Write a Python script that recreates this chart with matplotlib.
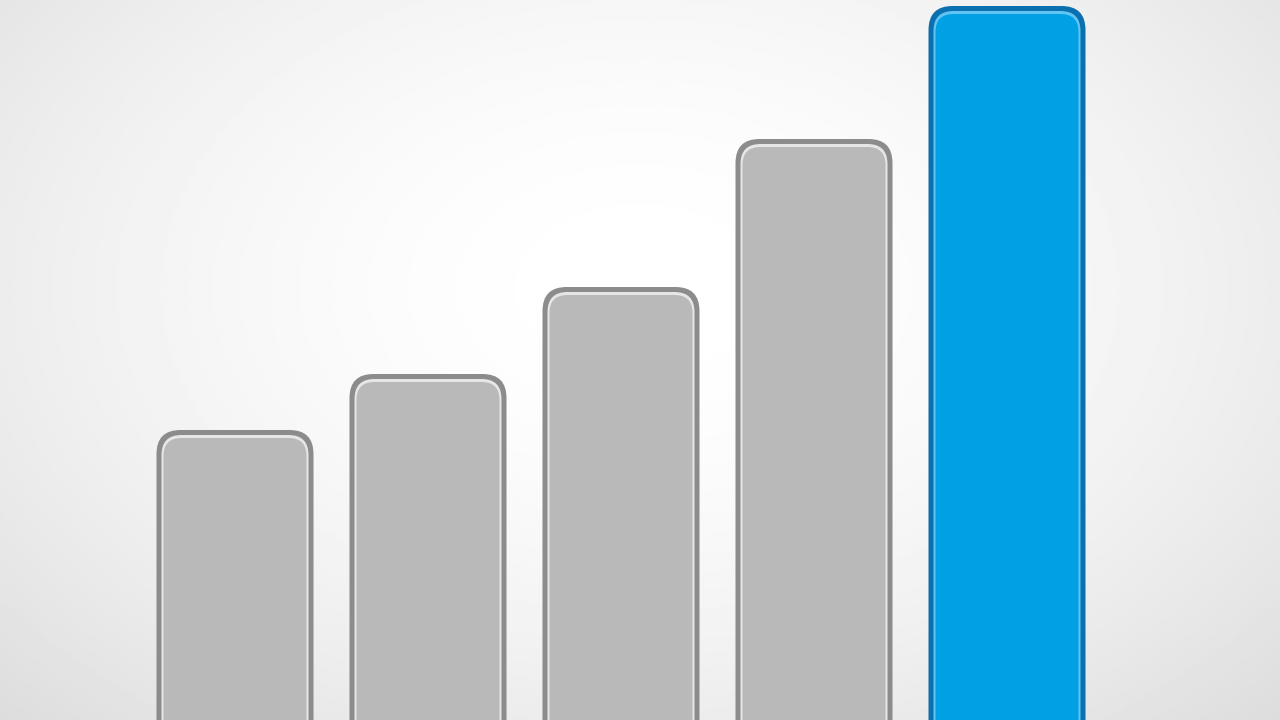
import numpy as np
import matplotlib
matplotlib.use("Agg")
import matplotlib.pyplot as plt
from matplotlib.patches import FancyBboxPatch

categories = ["A", "B", "C", "D", "E"]
values = [290, 346, 433, 581, 714]
highlight = [False, False, False, False, True]

gray_style = dict(border="#8c8c8c", inner="#e6e6e6", fill="#b9b9b9")
blue_style = dict(border="#0b70b0", inner="#62c4f2", fill="#00a1e4")

fig = plt.figure(figsize=(12.8, 7.2), dpi=100)
ax = fig.add_axes([0, 0, 1, 1])
ax.set_axis_off()

px_per_x = 193.0
xlim = (-235 / px_per_x, (1280 - 235) / px_per_x)
ax.set_xlim(*xlim)
ax.set_ylim(0, 720)

# background radial gradient
yy, xx = np.mgrid[0:1:300j, 0:1:500j]
d = np.sqrt(((xx - 0.5) / 0.75) ** 2 + ((yy - 0.6) / 0.9) ** 2)
g = np.clip(1.0 - 0.15 * d ** 1.8, 0, 1)
ax.imshow(g, cmap="gray", vmin=0, vmax=1, extent=[xlim[0], xlim[1], 0, 720],
          aspect="auto", zorder=0, origin="lower")

bar_bottom = -30
x = np.arange(len(categories))
heights = np.array(values) - bar_bottom
bars = ax.bar(x, heights, width=157 / px_per_x, bottom=bar_bottom, alpha=0)

def rbox(x0, y0, w, h, r_px, color, z):
    p = FancyBboxPatch((x0, y0), w, h,
                       boxstyle=f"round,pad=0,rounding_size={r_px / px_per_x}",
                       mutation_aspect=px_per_x, facecolor=color,
                       edgecolor="none", zorder=z)
    ax.add_patch(p)

for b, hl in zip(bars, highlight):
    st = blue_style if hl else gray_style
    x0, w = b.get_x(), b.get_width()
    y0, h = b.get_y(), b.get_height()
    rbox(x0, y0, w, h, 24, st["border"], 2)
    i1 = 5
    rbox(x0 + i1 / px_per_x, y0 + i1, w - 2 * i1 / px_per_x, h - 2 * i1, 20, st["inner"], 3)
    i2 = 7
    rbox(x0 + i2 / px_per_x, y0 + i2, w - 2 * i2 / px_per_x, h - 2 * i2 - 1, 18, st["fill"], 4)

fig.savefig("out.png", dpi=100)
